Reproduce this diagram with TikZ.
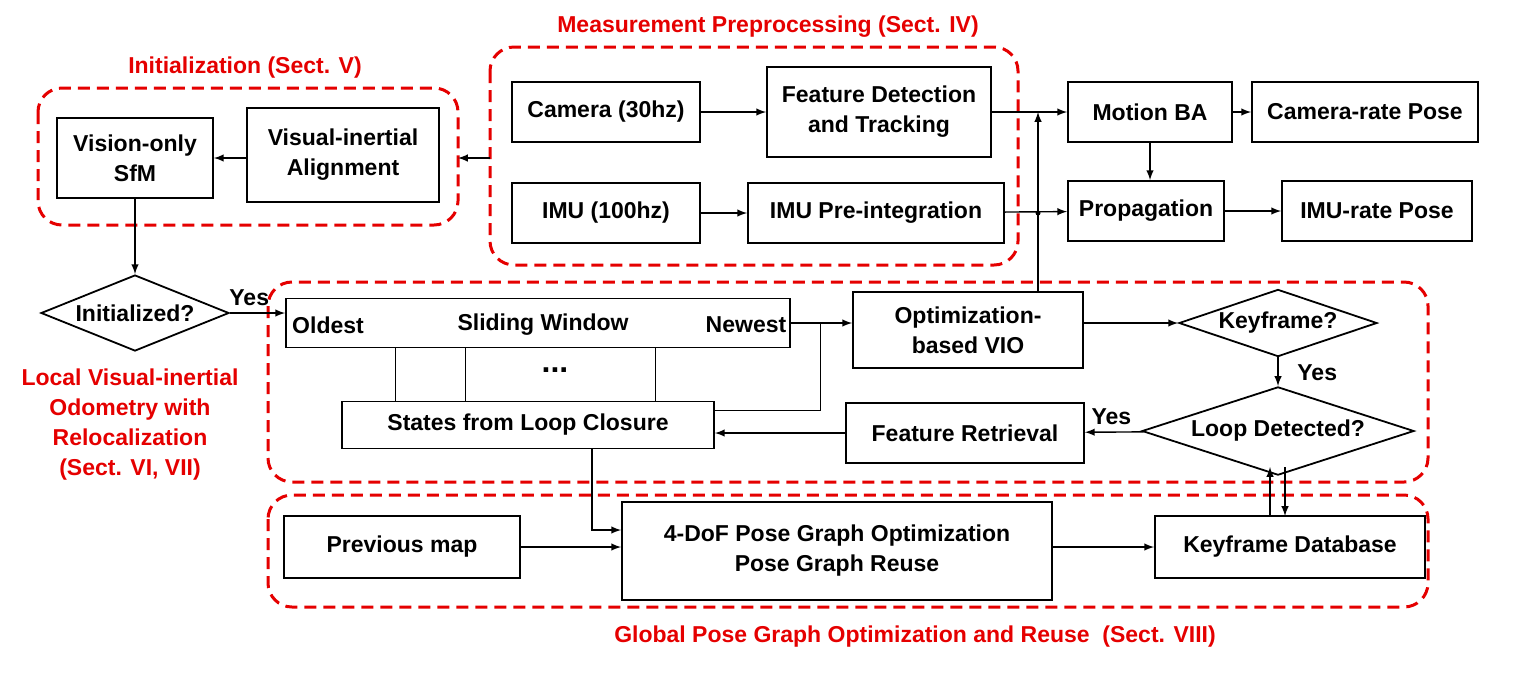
\documentclass[tikz,border=0pt]{standalone}
\usepackage{fontspec}
\setmainfont{Liberation Sans}
\usetikzlibrary{shapes.geometric}

\tikzset{
  blk/.style={draw, line width=0.9pt, align=center, inner sep=0pt},
  dia/.style={draw, diamond, aspect=2.6, line width=0.9pt, inner sep=0pt},
  grp/.style={draw=red!90!black, line width=1.5pt, dash pattern={on 6pt off 3.5pt}, rounded corners=12pt},
  grplbl/.style={text=red!90!black, align=center},
  arr/.style={-latex, line width=0.7pt}
}

\begin{document}
\begin{tikzpicture}[x=0.5pt,y=-0.5pt,font=\fontsize{11.5}{15}\selectfont\bfseries]
	\useasboundingbox (0,0) rectangle (1518,687);
	% groups
	\draw[grp] (38,88) rectangle (458,225);
	\draw[grp] (490,47) rectangle (1018,265);
	\draw[grp] (268,282) rectangle (1428,482);
	\draw[grp] (268,495) rectangle (1428,607);
	\node[grplbl] at (768,27) {Measurement Preprocessing (Sect. IV)};
	\node[grplbl] at (245,68) {Initialization (Sect. V)};
	\node[grplbl] at (130,425) {Local Visual-inertial\\Odometry with\\Relocalization\\(Sect. VI, VII)};
	\node[grplbl] at (915,637) {Global Pose Graph Optimization and Reuse\ \ (Sect. VIII)};
	% blocks
	\node[blk, minimum width=94pt, minimum height=30pt] (cam) at (606,112) {Camera (30hz)};
	\node[blk, minimum width=112pt, minimum height=45pt] (feat) at (879,112) {Feature Detection\\and Tracking};
	\node[blk, minimum width=94pt, minimum height=30pt] (imu) at (606,213) {IMU (100hz)};
	\node[blk, minimum width=128pt, minimum height=30pt] (preint) at (876,213) {IMU Pre-integration};
	\node[blk, minimum width=82pt, minimum height=30pt] (mba) at (1150,112) {Motion BA};
	\node[blk, minimum width=113pt, minimum height=30pt] (crp) at (1365,112) {Camera-rate Pose};
	\node[blk, minimum width=78pt, minimum height=30pt] (prop) at (1146,211) {Propagation};
	\node[blk, minimum width=95pt, minimum height=30pt] (irp) at (1377,211) {IMU-rate Pose};
	\node[blk, minimum width=96pt, minimum height=47pt] (via) at (343,155) {Visual-inertial\\Alignment};
	\node[blk, minimum width=78pt, minimum height=40pt] (sfm) at (135,158) {Vision-only\\SfM};
	\node[dia, minimum width=94pt, minimum height=38pt] (init) at (135,313) {Initialized?};
	\node[blk, minimum width=252pt, minimum height=24.5pt] (sw) at (538,323) {};
	\node at (328,325) {Oldest};
	\node at (543,325) {Sliding Window};
	\node at (746,325) {Newest};
	\node[blk, minimum width=115pt, minimum height=38pt] (vio) at (968,330) {Optimization-\\based VIO};
	\node[dia, minimum width=99pt, minimum height=33pt] (kf) at (1278,323) {Keyframe?};
	\node[dia, minimum width=136pt, minimum height=36pt] (loop) at (1278,431) {Loop Detected?};
	\node[blk, minimum width=119pt, minimum height=30pt] (fr) at (965,433) {Feature Retrieval};
	\node[blk, minimum width=186pt, minimum height=23.5pt] (slc) at (528,425) {States from Loop Closure};
	\node[font=\fontsize{16}{16}\selectfont\bfseries] (dots) at (555,370) {...};
	\node[blk, minimum width=118pt, minimum height=31pt] (pmap) at (402,547) {Previous map};
	\node[blk, minimum width=215pt, minimum height=49pt] (pgo) at (837,551) {4-DoF Pose Graph Optimization\\Pose Graph Reuse};
	\node[blk, minimum width=135pt, minimum height=31pt] (kfdb) at (1290,547) {Keyframe Database};
	% connectors
	\draw[arr] (cam) -- (feat);
	\draw[arr] (imu) -- (preint);
	\draw[arr] (feat) -- (mba);
	\draw[arr] (preint) -- (prop);
	\draw[arr] (mba) -- (mba |- prop.north);
	\draw[arr] (mba) -- (crp);
	\draw[arr] (prop) -- (irp);
	\coordinate (tap) at (1038,112);
	\draw[arr] (vio.north -| tap) -- (tap);
	\fill (1038,213) circle (2.5);
	\draw[arr] (490,158) -- (458,158);
	\draw[arr] (via.west |- sfm) -- (sfm);
	\draw[arr] (sfm) -- (init);
	\draw[arr] (init) -- node[above, pos=0.35] {Yes} (sw.west |- init);
	\draw[arr] (sw) -- (vio.west |- sw);
	\draw (slc.east |- 0,410) -| (820,323);
	\draw[arr] (vio.east |- kf) -- (kf);
	\draw[arr] (kf) -- node[right=6pt, pos=0.55] {Yes} (loop);
	\draw[arr] (loop) -- node[above, pos=0.55] {Yes} (fr);
	\draw[arr] (fr) -- (slc.east |- fr);
	\foreach \x in {395,465,655} \draw (\x,348) -- (\x,402);
	\draw[arr] (592,449) |- (pgo.west |- 0,530);
	\draw[arr] (pmap) -- (pgo.west |- pmap);
	\draw[arr] (pgo.east |- kfdb) -- (kfdb);
	\draw[arr] (1270,516) -- (1270,467);
	\draw[arr] (1285,467) -- (1285,516);
\end{tikzpicture}
\end{document}
